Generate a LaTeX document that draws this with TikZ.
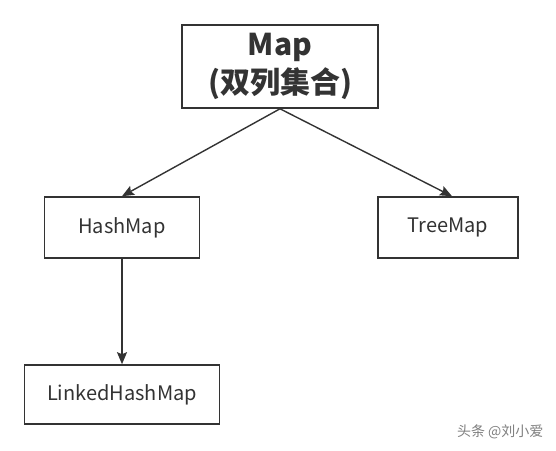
\documentclass[tikz,border=0pt]{standalone}
\usepackage{fontspec}
\setmainfont{Noto Sans CJK SC}
\usetikzlibrary{arrows.meta}
\definecolor{ln}{HTML}{333333}
\definecolor{wm}{HTML}{808080}
\begin{document}
\begin{tikzpicture}[x=1pt,y=1pt,
  box/.style={draw=ln,line width=1.6pt,rectangle,inner sep=0pt,text=ln,font=\fontsize{20}{24}\selectfont},
  conn/.style={draw=ln,line width=1.4pt,-{Stealth[length=12pt,width=10pt,inset=2pt]}}]
\useasboundingbox (0,0) rectangle (556,450);
\fill[white] (0,0) rectangle (556,450);
\node[box,minimum width=196pt,minimum height=83pt,align=center,font=\fontsize{30}{38}\selectfont\bfseries] (map) at (280,383.5) {Map\\(双列集合)};
\node[box,minimum width=155pt,minimum height=61pt] (hash) at (122,222.5) {HashMap};
\node[box,minimum width=140pt,minimum height=61pt] (tree) at (448,222.5) {TreeMap};
\node[box,minimum width=195pt,minimum height=59pt] (linked) at (122,55.5) {LinkedHashMap};
\draw[conn] (map.south) -- (hash.north);
\draw[conn] (map.south) -- ([xshift=4pt]tree.north);
\draw[conn] (hash.south) -- (linked.north);
\node[text=wm,font=\fontsize{14}{16}\selectfont,anchor=east] (wmark) at (547,18) {头条 @刘小爱};
\end{tikzpicture}
\end{document}
